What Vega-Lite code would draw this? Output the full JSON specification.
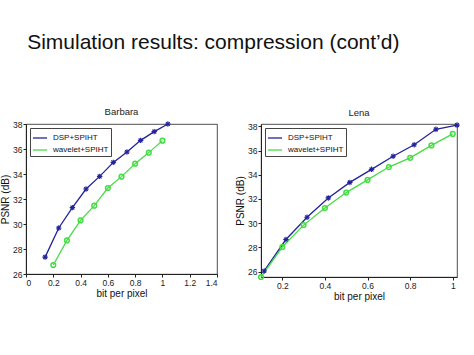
{
  "$schema": "https://vega.github.io/schema/vega-lite/v6.json",
  "background": "white",
  "padding": {"left": 0, "top": 32, "right": 5, "bottom": 5},
  "title": {"text": "Simulation results: compression (cont’d)", "anchor": "start", "dx": 27, "fontSize": 21, "font": "Liberation Sans", "fontWeight": "normal", "color": "#111111", "offset": 53},
  "datasets": {
    "d": [
      {"image": "Barbara", "method": "DSP+SPIHT", "bpp": 0.14, "psnr": 27.35},
      {"image": "Barbara", "method": "DSP+SPIHT", "bpp": 0.24, "psnr": 29.68},
      {"image": "Barbara", "method": "DSP+SPIHT", "bpp": 0.34, "psnr": 31.31},
      {"image": "Barbara", "method": "DSP+SPIHT", "bpp": 0.44, "psnr": 32.8},
      {"image": "Barbara", "method": "DSP+SPIHT", "bpp": 0.54, "psnr": 33.81},
      {"image": "Barbara", "method": "DSP+SPIHT", "bpp": 0.64, "psnr": 34.93},
      {"image": "Barbara", "method": "DSP+SPIHT", "bpp": 0.74, "psnr": 35.76},
      {"image": "Barbara", "method": "DSP+SPIHT", "bpp": 0.84, "psnr": 36.69},
      {"image": "Barbara", "method": "DSP+SPIHT", "bpp": 0.94, "psnr": 37.39},
      {"image": "Barbara", "method": "DSP+SPIHT", "bpp": 1.04, "psnr": 38.0},
      {"image": "Barbara", "method": "wavelet+SPIHT", "bpp": 0.2, "psnr": 26.72},
      {"image": "Barbara", "method": "wavelet+SPIHT", "bpp": 0.3, "psnr": 28.69},
      {"image": "Barbara", "method": "wavelet+SPIHT", "bpp": 0.4, "psnr": 30.29},
      {"image": "Barbara", "method": "wavelet+SPIHT", "bpp": 0.5, "psnr": 31.47},
      {"image": "Barbara", "method": "wavelet+SPIHT", "bpp": 0.6, "psnr": 32.88},
      {"image": "Barbara", "method": "wavelet+SPIHT", "bpp": 0.7, "psnr": 33.79},
      {"image": "Barbara", "method": "wavelet+SPIHT", "bpp": 0.8, "psnr": 34.83},
      {"image": "Barbara", "method": "wavelet+SPIHT", "bpp": 0.9, "psnr": 35.71},
      {"image": "Barbara", "method": "wavelet+SPIHT", "bpp": 1.0, "psnr": 36.67},
      {"image": "Lena", "method": "DSP+SPIHT", "bpp": 0.115, "psnr": 26.05},
      {"image": "Lena", "method": "DSP+SPIHT", "bpp": 0.217, "psnr": 28.65},
      {"image": "Lena", "method": "DSP+SPIHT", "bpp": 0.316, "psnr": 30.49},
      {"image": "Lena", "method": "DSP+SPIHT", "bpp": 0.416, "psnr": 32.09},
      {"image": "Lena", "method": "DSP+SPIHT", "bpp": 0.517, "psnr": 33.37},
      {"image": "Lena", "method": "DSP+SPIHT", "bpp": 0.619, "psnr": 34.45},
      {"image": "Lena", "method": "DSP+SPIHT", "bpp": 0.72, "psnr": 35.53},
      {"image": "Lena", "method": "DSP+SPIHT", "bpp": 0.819, "psnr": 36.48},
      {"image": "Lena", "method": "DSP+SPIHT", "bpp": 0.921, "psnr": 37.76},
      {"image": "Lena", "method": "DSP+SPIHT", "bpp": 1.02, "psnr": 38.11},
      {"image": "Lena", "method": "wavelet+SPIHT", "bpp": 0.1, "psnr": 25.55},
      {"image": "Lena", "method": "wavelet+SPIHT", "bpp": 0.2, "psnr": 28.03},
      {"image": "Lena", "method": "wavelet+SPIHT", "bpp": 0.3, "psnr": 29.84},
      {"image": "Lena", "method": "wavelet+SPIHT", "bpp": 0.4, "psnr": 31.25},
      {"image": "Lena", "method": "wavelet+SPIHT", "bpp": 0.5, "psnr": 32.53},
      {"image": "Lena", "method": "wavelet+SPIHT", "bpp": 0.6, "psnr": 33.58},
      {"image": "Lena", "method": "wavelet+SPIHT", "bpp": 0.7, "psnr": 34.64},
      {"image": "Lena", "method": "wavelet+SPIHT", "bpp": 0.8, "psnr": 35.4},
      {"image": "Lena", "method": "wavelet+SPIHT", "bpp": 0.9, "psnr": 36.43},
      {"image": "Lena", "method": "wavelet+SPIHT", "bpp": 1.0, "psnr": 37.38}
    ]
  },
  "config": {
    "font": "Liberation Sans",
    "view": {"stroke": "#222222", "strokeWidth": 0.8},
    "axis": {"grid": false, "domainColor": "#222222", "tickColor": "#222222", "labelFontSize": 8.5, "labelColor": "#222222", "titleFontSize": 10, "titleFontWeight": "normal", "titleColor": "#111111", "tickSize": 3, "labelPadding": 1, "titlePadding": 2, "format": "~g"},
    "title": {"fontSize": 9.5, "fontWeight": "normal", "color": "#222222", "offset": 3},
    "legend": {"orient": "top-left", "offset": 4, "title": null, "strokeColor": "#444444", "fillColor": "white", "padding": 2, "labelFontSize": 8, "labelColor": "#111111", "symbolType": "stroke", "symbolSize": 200, "symbolStrokeWidth": 1.3, "rowPadding": 0, "labelOffset": 5}
  },
  "resolve": {"legend": {"color": "independent"}, "scale": {"color": "independent"}},
  "spacing": 17,
  "hconcat": [
    {
      "title": "Barbara",
      "width": 191,
      "height": 150,
      "data": {"name": "d"},
      "transform": [{"filter": "datum.image === 'Barbara'"}],
      "encoding": {
        "x": {"field": "bpp", "type": "quantitative", "scale": {"domain": [0, 1.4], "nice": false}, "axis": {"title": "bit per pixel", "values": [0, 0.2, 0.4, 0.6, 0.8, 1, 1.2, 1.4]}},
        "y": {"field": "psnr", "type": "quantitative", "scale": {"domain": [26, 38], "nice": false, "zero": false}, "axis": {"title": "PSNR (dB)", "values": [26, 28, 30, 32, 34, 36, 38]}}
      },
      "layer": [
        {"mark": {"type": "line", "strokeWidth": 1.3}, "encoding": {"color": {"field": "method", "type": "nominal", "scale": {"domain": ["DSP+SPIHT", "wavelet+SPIHT"], "range": ["#23239c", "#46dc46"]}}}},
        {"transform": [{"filter": "datum.method === 'DSP+SPIHT'"}], "mark": {"type": "point", "shape": "M-1,0L1,0M0,-1L0,1M-0.7,-0.7L0.7,0.7M-0.7,0.7L0.7,-0.7", "size": 30, "filled": false, "strokeWidth": 1.1, "opacity": 1, "color": "#23239c"}},
        {"transform": [{"filter": "datum.method === 'wavelet+SPIHT'"}], "mark": {"type": "point", "shape": "circle", "size": 22, "filled": false, "strokeWidth": 1.5, "opacity": 1, "color": "#46dc46"}}
      ]
    },
    {
      "title": "Lena",
      "width": 196,
      "height": 153,
      "data": {"name": "d"},
      "transform": [{"filter": "datum.image === 'Lena'"}],
      "encoding": {
        "x": {"field": "bpp", "type": "quantitative", "scale": {"domain": [0.1, 1.02], "nice": false, "zero": false}, "axis": {"title": "bit per pixel", "values": [0.2, 0.4, 0.6, 0.8, 1]}},
        "y": {"field": "psnr", "type": "quantitative", "scale": {"domain": [25.55, 38.2], "nice": false, "zero": false}, "axis": {"title": "PSNR (dB)", "values": [26, 28, 30, 32, 34, 36, 38]}}
      },
      "layer": [
        {"mark": {"type": "line", "strokeWidth": 1.3}, "encoding": {"color": {"field": "method", "type": "nominal", "scale": {"domain": ["DSP+SPIHT", "wavelet+SPIHT"], "range": ["#23239c", "#46dc46"]}}}},
        {"transform": [{"filter": "datum.method === 'DSP+SPIHT'"}], "mark": {"type": "point", "shape": "M-1,0L1,0M0,-1L0,1M-0.7,-0.7L0.7,0.7M-0.7,0.7L0.7,-0.7", "size": 30, "filled": false, "strokeWidth": 1.1, "opacity": 1, "color": "#23239c"}},
        {"transform": [{"filter": "datum.method === 'wavelet+SPIHT'"}], "mark": {"type": "point", "shape": "circle", "size": 22, "filled": false, "strokeWidth": 1.5, "opacity": 1, "color": "#46dc46"}}
      ]
    }
  ]
}
